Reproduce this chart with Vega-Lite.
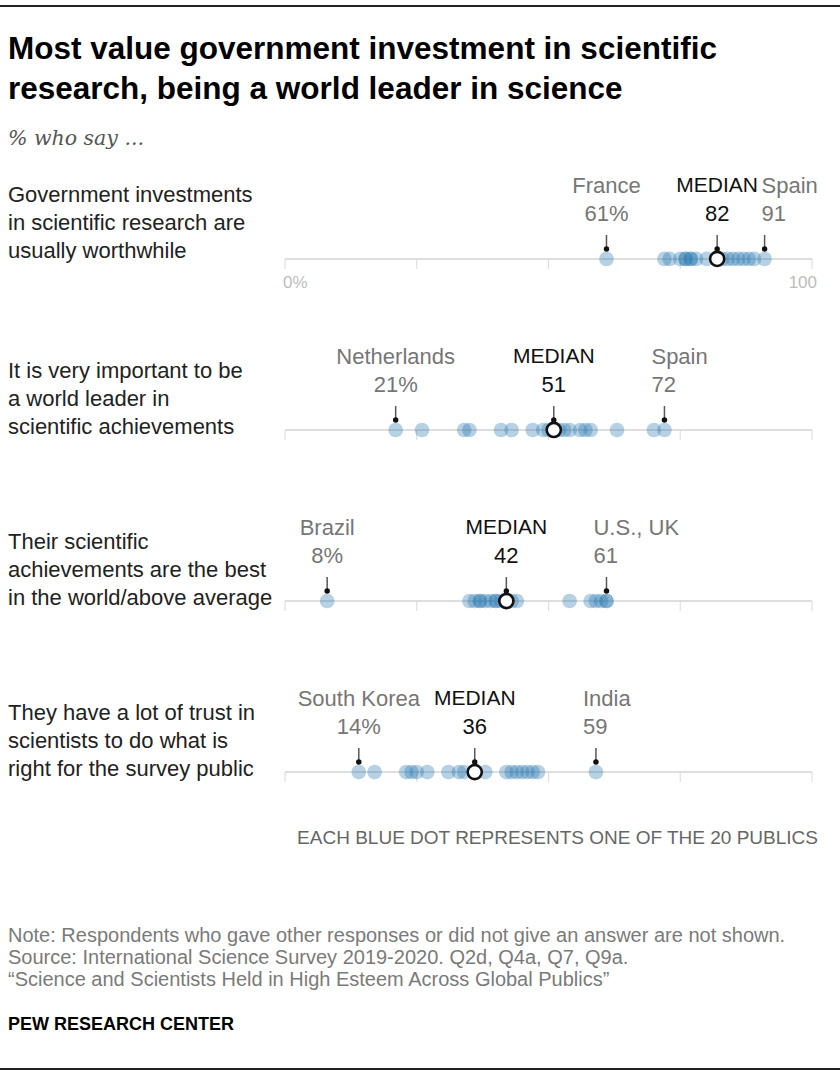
{
  "$schema": "https://vega.github.io/schema/vega-lite/v6.json",
  "background": "white",
  "padding": {"top": 0, "left": 0, "right": 0, "bottom": 0},
  "spacing": 25,
  "config": {"view": {"stroke": null}, "font": "Liberation Sans"},
  "datasets": {
    "dots": [
      {"q": "q1", "v": 61}, {"q": "q1", "v": 72}, {"q": "q1", "v": 73}, {"q": "q1", "v": 75}, {"q": "q1", "v": 76},
      {"q": "q1", "v": 76}, {"q": "q1", "v": 77}, {"q": "q1", "v": 77}, {"q": "q1", "v": 78}, {"q": "q1", "v": 80},
      {"q": "q1", "v": 82}, {"q": "q1", "v": 82}, {"q": "q1", "v": 83}, {"q": "q1", "v": 84}, {"q": "q1", "v": 85},
      {"q": "q1", "v": 86}, {"q": "q1", "v": 87}, {"q": "q1", "v": 88}, {"q": "q1", "v": 89}, {"q": "q1", "v": 91},
      {"q": "q2", "v": 21}, {"q": "q2", "v": 26}, {"q": "q2", "v": 34}, {"q": "q2", "v": 35}, {"q": "q2", "v": 41},
      {"q": "q2", "v": 43}, {"q": "q2", "v": 47}, {"q": "q2", "v": 49}, {"q": "q2", "v": 50}, {"q": "q2", "v": 51},
      {"q": "q2", "v": 51}, {"q": "q2", "v": 52}, {"q": "q2", "v": 53}, {"q": "q2", "v": 54}, {"q": "q2", "v": 56},
      {"q": "q2", "v": 57}, {"q": "q2", "v": 58}, {"q": "q2", "v": 63}, {"q": "q2", "v": 70}, {"q": "q2", "v": 72},
      {"q": "q3", "v": 8}, {"q": "q3", "v": 35}, {"q": "q3", "v": 36}, {"q": "q3", "v": 37}, {"q": "q3", "v": 37},
      {"q": "q3", "v": 38}, {"q": "q3", "v": 39}, {"q": "q3", "v": 40}, {"q": "q3", "v": 40}, {"q": "q3", "v": 41},
      {"q": "q3", "v": 42}, {"q": "q3", "v": 42}, {"q": "q3", "v": 43}, {"q": "q3", "v": 44}, {"q": "q3", "v": 54},
      {"q": "q3", "v": 58}, {"q": "q3", "v": 59}, {"q": "q3", "v": 60}, {"q": "q3", "v": 61}, {"q": "q3", "v": 61},
      {"q": "q4", "v": 14}, {"q": "q4", "v": 17}, {"q": "q4", "v": 23}, {"q": "q4", "v": 24}, {"q": "q4", "v": 25},
      {"q": "q4", "v": 27}, {"q": "q4", "v": 31}, {"q": "q4", "v": 33}, {"q": "q4", "v": 34}, {"q": "q4", "v": 36},
      {"q": "q4", "v": 36}, {"q": "q4", "v": 38}, {"q": "q4", "v": 42}, {"q": "q4", "v": 43}, {"q": "q4", "v": 44},
      {"q": "q4", "v": 45}, {"q": "q4", "v": 46}, {"q": "q4", "v": 47}, {"q": "q4", "v": 48}, {"q": "q4", "v": 59}
    ],
    "notes": [
      {"q": "q1", "role": "min", "v": 61, "name": "France", "label": "61%"},
      {"q": "q1", "role": "median", "v": 82, "name": "MEDIAN", "label": "82"},
      {"q": "q1", "role": "max", "v": 91, "name": "Spain", "label": "91"},
      {"q": "q2", "role": "min", "v": 21, "name": "Netherlands", "label": "21%"},
      {"q": "q2", "role": "median", "v": 51, "name": "MEDIAN", "label": "51"},
      {"q": "q2", "role": "max", "v": 72, "name": "Spain", "label": "72"},
      {"q": "q3", "role": "min", "v": 8, "name": "Brazil", "label": "8%"},
      {"q": "q3", "role": "median", "v": 42, "name": "MEDIAN", "label": "42"},
      {"q": "q3", "role": "max", "v": 61, "name": "U.S., UK", "label": "61"},
      {"q": "q4", "role": "min", "v": 14, "name": "South Korea", "label": "14%"},
      {"q": "q4", "role": "median", "v": 36, "name": "MEDIAN", "label": "36"},
      {"q": "q4", "role": "max", "v": 59, "name": "India", "label": "59"}
    ],
    "rows": [
      {"q": "q1", "text": "Government investments|in scientific research are|usually worthwhile"},
      {"q": "q2", "text": "It is very important to be|a world leader in|scientific achievements"},
      {"q": "q3", "text": "Their scientific|achievements are the best|in the world/above average"},
      {"q": "q4", "text": "They have a lot of trust in|scientists to do what is|right for the survey public"}
    ],
    "ticks": [
      {"q": "q1", "v": 0}, {"q": "q1", "v": 25}, {"q": "q1", "v": 50}, {"q": "q1", "v": 75}, {"q": "q1", "v": 100},
      {"q": "q2", "v": 0}, {"q": "q2", "v": 25}, {"q": "q2", "v": 50}, {"q": "q2", "v": 75}, {"q": "q2", "v": 100},
      {"q": "q3", "v": 0}, {"q": "q3", "v": 25}, {"q": "q3", "v": 50}, {"q": "q3", "v": 75}, {"q": "q3", "v": 100},
      {"q": "q4", "v": 0}, {"q": "q4", "v": 25}, {"q": "q4", "v": 50}, {"q": "q4", "v": 75}, {"q": "q4", "v": 100}
    ],
    "axislabels": [
      {"q": "q1", "v": 0, "label": "0%"},
      {"q": "q1", "v": 100, "label": "100"}
    ]
  },
  "vconcat": [
    {
      "width": 840,
      "height": 2,
      "view": {"fill": "#222", "stroke": null},
      "data": {"values": [{}]},
      "mark": {"type": "text", "text": ""},
      "encoding": {},
      "title": {
        "text": ["Most value government investment in scientific", "research, being a world leader in science"],
        "subtitle": "% who say ...",
        "orient": "bottom",
        "anchor": "start",
        "dx": 8,
        "offset": 23,
        "font": "Liberation Sans",
        "fontSize": 31.5,
        "fontWeight": "bold",
        "color": "#000",
        "lineHeight": 40,
        "subtitleFont": "DejaVu Serif",
        "subtitleFontStyle": "italic",
        "subtitleFontSize": 20.5,
        "subtitleColor": "#555",
        "subtitlePadding": 23
      }
    },
    {
      "width": 840,
      "height": 653,
      "encoding": {
        "x": {"field": "v", "type": "quantitative", "axis": null, "scale": {"domain": [-54.08, 105.31], "nice": false, "zero": false}},
        "y": {"field": "q", "type": "nominal", "axis": null, "scale": {"type": "point", "domain": ["q1", "q2", "q3", "q4"], "padding": 0.409}}
      },
      "layer": [
        {
          "data": {"name": "ticks"},
          "mark": {"type": "line", "color": "#d3d3d3", "strokeWidth": 1.5},
          "encoding": {"detail": {"field": "q"}}
        },
        {
          "data": {"name": "ticks"},
          "mark": {"type": "tick", "color": "#d3d3d3", "thickness": 1.2, "size": 10, "yOffset": 5}
        },
        {
          "data": {"name": "dots"},
          "mark": {"type": "circle", "size": 215, "color": "#2a78b0", "opacity": 0.34}
        },
        {
          "data": {"name": "notes"},
          "mark": {"type": "tick", "color": "#111", "thickness": 1.5, "size": 14, "yOffset": -17}
        },
        {
          "data": {"name": "notes"},
          "mark": {"type": "circle", "size": 30, "color": "#111", "opacity": 1, "yOffset": -10}
        },
        {
          "data": {"name": "notes"},
          "transform": [{"filter": "datum.role === 'median'"}],
          "mark": {"type": "circle", "size": 200, "fill": "white", "stroke": "#111", "strokeWidth": 2.6, "opacity": 1}
        },
        {
          "data": {"name": "notes"},
          "transform": [{"filter": "datum.role === 'min'"}],
          "mark": {"type": "text", "fontSize": 22, "baseline": "middle", "align": "center", "dy": -73, "color": "#767676"},
          "encoding": {"text": {"field": "name"}}
        },
        {
          "data": {"name": "notes"},
          "transform": [{"filter": "datum.role === 'min'"}],
          "mark": {"type": "text", "fontSize": 22, "baseline": "middle", "align": "center", "dy": -45, "color": "#767676"},
          "encoding": {"text": {"field": "label"}}
        },
        {
          "data": {"name": "notes"},
          "transform": [{"filter": "datum.role === 'median'"}],
          "mark": {"type": "text", "fontSize": 21, "baseline": "middle", "align": "center", "dy": -73, "color": "#111"},
          "encoding": {"text": {"field": "name"}}
        },
        {
          "data": {"name": "notes"},
          "transform": [{"filter": "datum.role === 'median'"}],
          "mark": {"type": "text", "fontSize": 22, "baseline": "middle", "align": "center", "dy": -45, "color": "#111"},
          "encoding": {"text": {"field": "label"}}
        },
        {
          "data": {"name": "notes"},
          "transform": [{"filter": "datum.role === 'max' && datum.q !== 'q1'"}],
          "mark": {"type": "text", "fontSize": 22, "baseline": "middle", "align": "left", "dx": -13, "dy": -73, "color": "#767676"},
          "encoding": {"text": {"field": "name"}}
        },
        {
          "data": {"name": "notes"},
          "transform": [{"filter": "datum.role === 'max' && datum.q !== 'q1'"}],
          "mark": {"type": "text", "fontSize": 22, "baseline": "middle", "align": "left", "dx": -13, "dy": -45, "color": "#767676"},
          "encoding": {"text": {"field": "label"}}
        },
        {
          "data": {"name": "notes"},
          "transform": [{"filter": "datum.role === 'max' && datum.q === 'q1'"}],
          "mark": {"type": "text", "fontSize": 22, "baseline": "middle", "align": "left", "dx": -3, "dy": -73, "color": "#767676"},
          "encoding": {"text": {"field": "name"}}
        },
        {
          "data": {"name": "notes"},
          "transform": [{"filter": "datum.role === 'max' && datum.q === 'q1'"}],
          "mark": {"type": "text", "fontSize": 22, "baseline": "middle", "align": "left", "dx": -3, "dy": -45, "color": "#767676"},
          "encoding": {"text": {"field": "label"}}
        },
        {
          "data": {"name": "axislabels"},
          "transform": [{"filter": "datum.v === 0"}],
          "mark": {"type": "text", "fontSize": 17, "baseline": "middle", "align": "left", "dx": -2, "dy": 24, "color": "#bdbdbd"},
          "encoding": {"text": {"field": "label"}}
        },
        {
          "data": {"name": "axislabels"},
          "transform": [{"filter": "datum.v === 100"}],
          "mark": {"type": "text", "fontSize": 17, "baseline": "middle", "align": "right", "dx": 5, "dy": 24, "color": "#bdbdbd"},
          "encoding": {"text": {"field": "label"}}
        },
        {
          "data": {"name": "rows"},
          "transform": [{"filter": "datum.q === 'q1'"}],
          "mark": {"type": "text", "fontSize": 22, "lineHeight": 28, "lineBreak": "|", "baseline": "top", "align": "left", "dx": 8, "dy": -74, "color": "#222"},
          "encoding": {"x": {"value": 0}, "text": {"field": "text"}}
        },
        {
          "data": {"name": "rows"},
          "transform": [{"filter": "datum.q !== 'q1'"}],
          "mark": {"type": "text", "fontSize": 22, "lineHeight": 28, "lineBreak": "|", "baseline": "top", "align": "left", "dx": 8, "dy": -69, "color": "#222"},
          "encoding": {"x": {"value": 0}, "text": {"field": "text"}}
        },
        {
          "data": {"name": "rows"},
          "transform": [{"filter": "datum.q === 'q4'"}],
          "mark": {"type": "text", "fontSize": 19, "baseline": "middle", "align": "right", "dx": -22, "dy": 66, "color": "#666", "text": "EACH BLUE DOT REPRESENTS ONE OF THE 20 PUBLICS"},
          "encoding": {"x": {"value": "width"}}
        }
      ],
      "title": {
        "text": [
          "Note: Respondents who gave other responses or did not give an answer are not shown.",
          "Source: International Science Survey 2019-2020. Q2d, Q4a, Q7, Q9a.",
          "\u201cScience and Scientists Held in High Esteem Across Global Publics\u201d"
        ],
        "orient": "bottom",
        "anchor": "start",
        "dx": 8,
        "offset": 78,
        "font": "Liberation Sans",
        "fontSize": 20,
        "fontWeight": "normal",
        "color": "#7a7a7a",
        "lineHeight": 22
      }
    },
    {
      "width": 840,
      "height": 2,
      "view": {"fill": "#222", "stroke": null},
      "data": {"values": [{}]},
      "mark": {"type": "text", "text": ""},
      "encoding": {},
      "title": {
        "text": "PEW RESEARCH CENTER",
        "orient": "top",
        "anchor": "start",
        "dx": 8,
        "offset": 29,
        "font": "Liberation Sans",
        "fontSize": 18,
        "fontWeight": "bold",
        "color": "#000"
      }
    }
  ]
}
